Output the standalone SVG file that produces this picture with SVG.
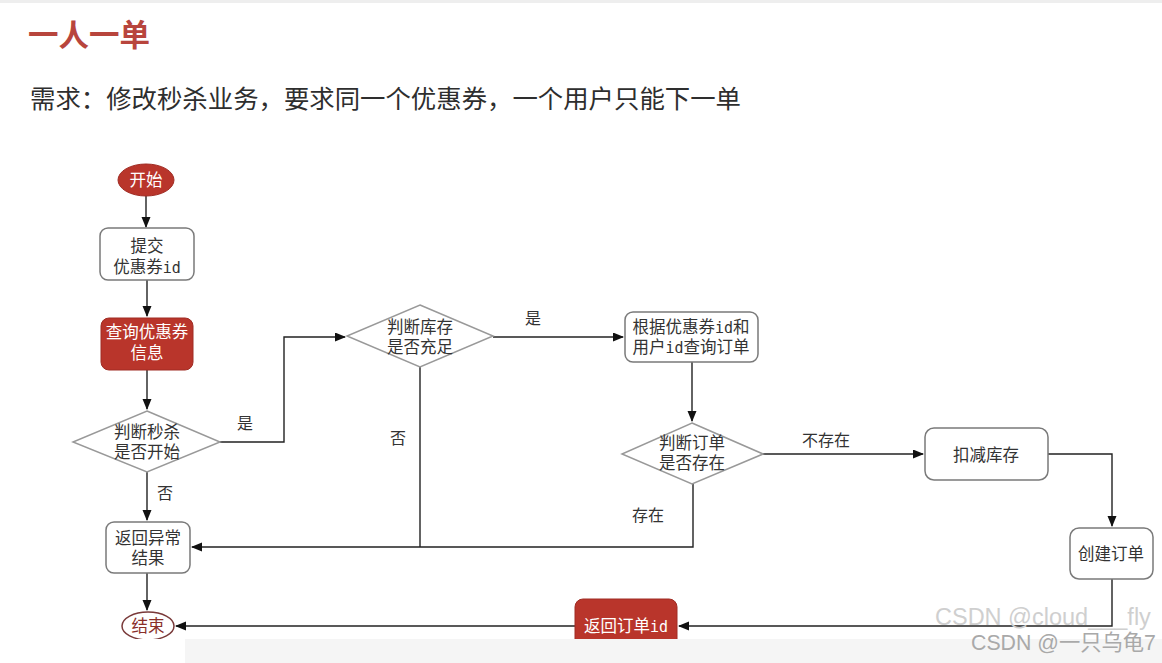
<svg xmlns="http://www.w3.org/2000/svg" width="1162" height="663" viewBox="0 0 1162 663">
<defs>
<marker id="arr" markerUnits="userSpaceOnUse" markerWidth="11" markerHeight="10" refX="10" refY="4.5" orient="auto">
<path d="M0,0 L11,4.5 L0,9 z" fill="#111"/>
</marker>
<style>
text{font-family:"Liberation Sans","Noto Sans CJK SC",sans-serif;}
.t{font-size:16.5px;fill:#333;text-anchor:middle;}
.w{font-size:16.5px;fill:#fff;text-anchor:middle;}
.lbl{font-size:16px;fill:#333;text-anchor:middle;}
.mono{font-family:"DejaVu Sans Mono","Liberation Mono",monospace;font-size:15px;}
.box{fill:#fff;stroke:#7a7a7a;stroke-width:1.5;}
.red{fill:#b9352b;stroke:#a02c24;stroke-width:1;}
.dia{fill:#fff;stroke:#999;stroke-width:1.5;}
.con{fill:none;stroke:#222;stroke-width:1.4;}
</style>
</defs>
<rect width="1162" height="663" fill="#fff"/>
<rect x="0" y="0" width="1162" height="3" fill="#eeeeee"/>

<text x="28" y="46" style="font-size:30.5px;font-weight:bold;fill:#b8453d;">一人一单</text>
<text x="30" y="108" style="font-size:25.4px;fill:#2e2e2e;">需求：修改秒杀业务，要求同一个优惠券，一个用户只能下一单</text>

<g id="connectors">
<path class="con" d="M146,196 V227" marker-end="url(#arr)"/>
<path class="con" d="M147,280 V316" marker-end="url(#arr)"/>
<path class="con" d="M147,370 V409" marker-end="url(#arr)"/>
<path class="con" d="M220,442 H284 V337 H345" marker-end="url(#arr)"/>
<path class="con" d="M147,472 V520" marker-end="url(#arr)"/>
<path class="con" d="M493,337 H623" marker-end="url(#arr)"/>
<path class="con" d="M420,367 V547"/>
<path class="con" d="M692,362 V421" marker-end="url(#arr)"/>
<path class="con" d="M763,454 H923" marker-end="url(#arr)"/>
<path class="con" d="M693,484 V547 H192" marker-end="url(#arr)"/>
<path class="con" d="M1048,454 H1112 V526" marker-end="url(#arr)"/>
<path class="con" d="M1112,579 V626 H679" marker-end="url(#arr)"/>
<path class="con" d="M575,626 H176" marker-end="url(#arr)"/>
<path class="con" d="M147,573 V610" marker-end="url(#arr)"/>
<text class="lbl" x="245" y="429">是</text>
<text class="lbl" x="165" y="499">否</text>
<text class="lbl" x="533" y="324">是</text>
<text class="lbl" x="398" y="444">否</text>
<text class="lbl" x="826" y="446">不存在</text>
<text class="lbl" x="648" y="521">存在</text>
</g>

<g id="start">
<ellipse class="red" cx="146" cy="180" rx="28" ry="16"/>
<text class="w" x="146" y="186">开始</text>
</g>
<g id="submit">
<rect class="box" x="100" y="228" width="94" height="52" rx="8"/>
<text class="t" x="147" y="252">提交</text>
<text class="t" x="147" y="273">优惠券<tspan class="mono">id</tspan></text>
</g>
<g id="query">
<rect class="red" x="101" y="318" width="92" height="52" rx="8"/>
<text class="w" x="147" y="338">查询优惠券</text>
<text class="w" x="147" y="359">信息</text>
</g>
<g id="judge-start">
<polygon class="dia" points="147,411 220,442 147,472 73,442"/>
<text class="t" x="147" y="438">判断秒杀</text>
<text class="t" x="147" y="458">是否开始</text>
</g>
<g id="error">
<rect class="box" x="106" y="522" width="84" height="51" rx="8"/>
<text class="t" x="148" y="544">返回异常</text>
<text class="t" x="148" y="564">结果</text>
</g>
<g id="end">
<ellipse cx="148" cy="626" rx="26" ry="14" fill="#fff" stroke="#7a3a3a" stroke-width="1.5"/>
<text x="148" y="632" style="font-size:16.5px;fill:#8a2f2a;text-anchor:middle;">结束</text>
</g>
<g id="judge-stock">
<polygon class="dia" points="420,305 493,336 420,367 347,336"/>
<text class="t" x="420" y="333">判断库存</text>
<text class="t" x="420" y="353">是否充足</text>
</g>
<g id="query-order">
<rect class="box" x="625" y="312" width="133" height="50" rx="8"/>
<text class="t" x="691" y="333">根据优惠券<tspan class="mono">id</tspan>和</text>
<text class="t" x="691" y="353">用户<tspan class="mono">id</tspan>查询订单</text>
</g>
<g id="judge-order">
<polygon class="dia" points="692,423 763,454 692,484 622,454"/>
<text class="t" x="692" y="449">判断订单</text>
<text class="t" x="692" y="469">是否存在</text>
</g>
<g id="deduct">
<rect class="box" x="925" y="428" width="123" height="52" rx="9"/>
<text class="t" x="986" y="461">扣减库存</text>
</g>
<g id="create">
<rect class="box" x="1070" y="528" width="83" height="51" rx="9"/>
<text class="t" x="1111" y="560">创建订单</text>
</g>
<g id="return-id">
<rect class="red" x="575" y="599" width="102" height="50" rx="8"/>
<text class="w" x="626" y="632">返回订单<tspan class="mono">id</tspan></text>
</g>

<rect x="0" y="639" width="185" height="24" fill="#fff"/>
<rect x="185" y="639" width="977" height="24" fill="#f5f5f5"/>

<text x="935" y="625" style="font-size:23.5px;fill:#cfcfcf;">CSDN @cloud___fly</text>
<text x="971" y="650" style="font-size:21.3px;fill:#a9a9a9;">CSDN @一只乌龟7</text>
</svg>
